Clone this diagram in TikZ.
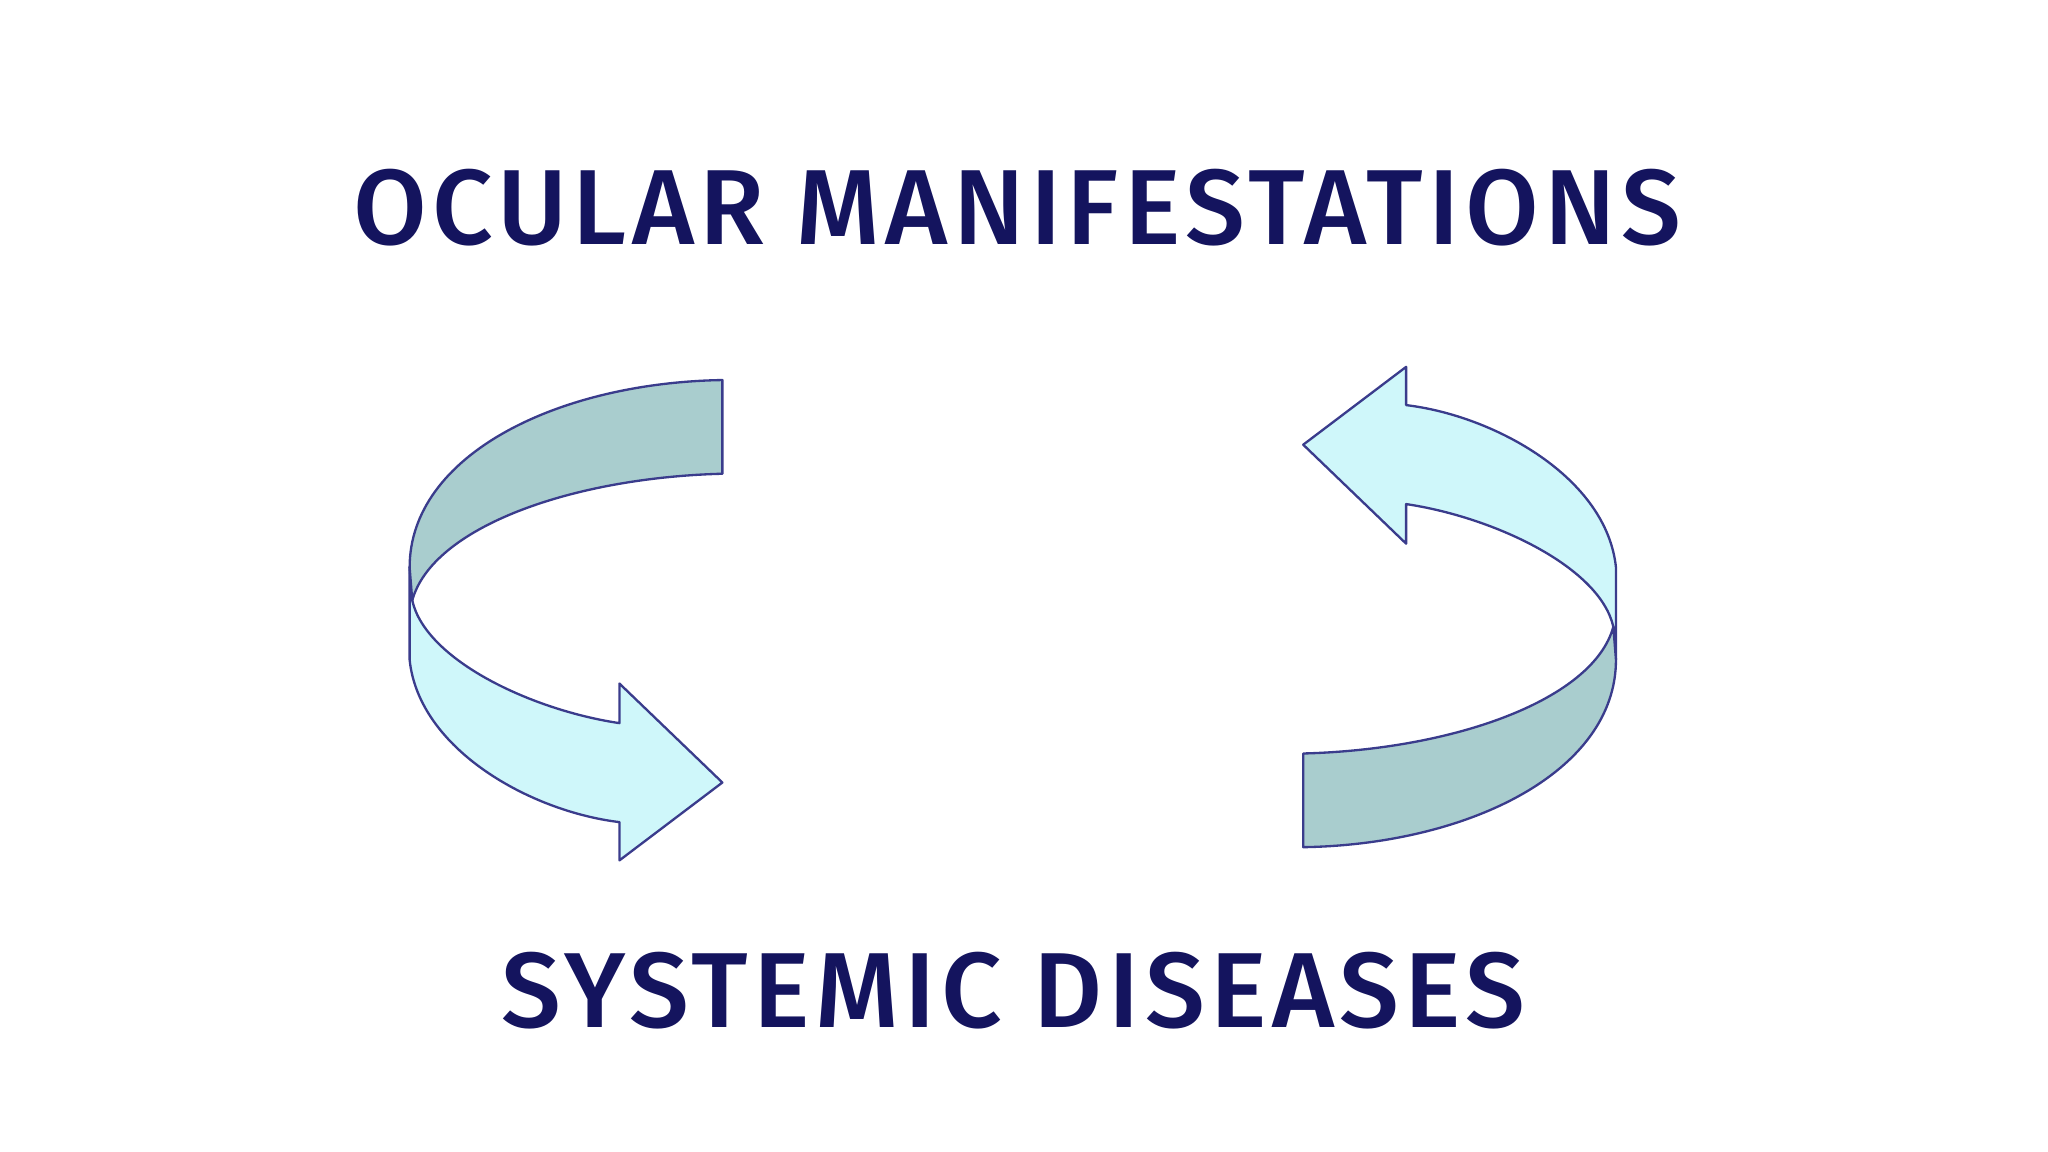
\documentclass[tikz,border=0pt]{standalone}
\usepackage{fontspec}
\setmainfont{Fira Sans}[BoldFont={Fira Sans Medium},LetterSpace=5]
\definecolor{navy}{HTML}{14145E}
\definecolor{darkband}{HTML}{A9CDCE}
\definecolor{lightband}{HTML}{CFF7FA}
\definecolor{edge}{HTML}{3A3C8C}
\begin{document}
\begin{tikzpicture}[x=0.01cm,y=-0.01cm,
  title/.style={text=navy,font=\bfseries\fontsize{23}{28}\selectfont,inner sep=0pt},
  lightpart/.style={fill=lightband,draw=edge,line width=0.5pt,line join=round},
  darkpart/.style={fill=darkband,draw=edge,line width=0.5pt,line join=round}]
\useasboundingbox (0,0) rectangle (1552,873);
\node[title] (ocular) at (771,157) {OCULAR MANIFESTATIONS};
\node[title] (systemic) at (768,751) {SYSTEMIC DISEASES};
\foreach \r in {0,180}{
\begin{scope}[rotate around={\r:(767.5,465)}]
\begin{scope}[xshift=-5]
\draw[lightpart] (328,430) -- (328,500) .. controls (335,568) and (420,615) .. (487,623)
  -- (487,652) -- (565,593) -- (487,518) -- (487,548)
  .. controls (420,538) and (340,500) .. (330,455) -- cycle;
\draw[darkpart] (565,288) .. controls (440,290) and (328,345) .. (328,430)
  -- (330,455) .. controls (345,400) and (450,362) .. (565,359) -- cycle;
\end{scope}
\end{scope}}
\end{tikzpicture}
\end{document}
